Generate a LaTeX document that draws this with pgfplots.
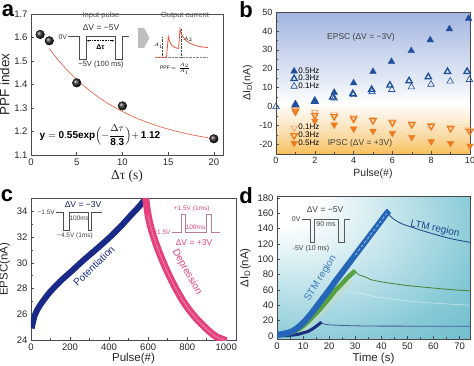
\documentclass[border=0pt]{standalone}
\usepackage{fontspec}
\setmainfont{Liberation Sans}
\newfontfamily\serif{Liberation Serif}
\usepackage{pgfplots}
\pgfplotsset{compat=1.18}
\usetikzlibrary{arrows.meta}
\newcommand\fiteq{$\displaystyle\mathbf{y = 0.55exp}\Bigl(-\frac{\Delta\tau}{\mathbf{8.3}}\Bigr)\mathbf{+\,1.12}$}
\newcommand\ppfeq{PPF $=\frac{A_2}{A_1}$}
\definecolor{bblue}{HTML}{1F4E9C}
\definecolor{borange}{HTML}{F07A1E}
\definecolor{borangel}{HTML}{F39A5A}
\definecolor{cnavy}{HTML}{1B2A88}
\definecolor{cpink}{HTML}{E6407C}
\definecolor{dblue}{HTML}{2566B8}
\definecolor{dgreen}{HTML}{58A044}
\definecolor{dnavy}{HTML}{1C2E80}
\definecolor{fitred}{HTML}{E8553E}
\definecolor{framec}{HTML}{4A4A4A}
\definecolor{bg1}{HTML}{F7BF5A}
\definecolor{bg2}{HTML}{FAD9A0}
\definecolor{bg3}{HTML}{FDF0DC}
\definecolor{bg4}{HTML}{E6ECF7}
\definecolor{bg5}{HTML}{C6D2EC}
\definecolor{bg6}{HTML}{A2B4DE}
\definecolor{dg1}{HTML}{C2E4EB}
\definecolor{dg2}{HTML}{86C9D6}
\definecolor{dg3}{HTML}{5AB2C5}
\pgfdeclareverticalshading{bshade}{100bp}{color(0bp)=(bg1); color(25bp)=(bg1); color(31bp)=(bg2); color(38bp)=(bg3); color(43bp)=(white); color(50bp)=(bg4); color(62bp)=(bg5); color(75bp)=(bg6); color(100bp)=(bg6)}
\pgfdeclareradialshading{dshade}{\pgfpoint{-25bp}{25bp}}{color(0bp)=(white); color(8bp)=(white); color(25bp)=(dg1); color(42bp)=(dg2); color(62bp)=(dg3); color(100bp)=(dg3)}
\pgfplotsset{panel/.style={scale only axis, anchor=south west,
  axis line style={framec, line width=0.7pt},
  tick style={framec, line width=0.6pt}, tick align=inside, tick pos=left,
  major tick length=3pt, minor tick length=1.8pt,
  ticklabel style={font=\fontsize{9.5}{10}\selectfont, text=black!85},
  label style={font=\fontsize{11.5}{12}\selectfont, text=black!85},
  /pgf/number format/assume math mode=true,
  /pgf/number format/1000 sep={}}}
\begin{document}
\begin{tikzpicture}
\path[use as bounding box] (0pt,0pt) rectangle (474pt,365pt);
% ---------------- panel a
\begin{axis}[panel, at={(31pt,210pt)}, width=192pt, height=141pt,
  xmin=0, xmax=21, ymin=1.1, ymax=1.7,
  xtick={0,5,10,15,20}, ytick={1.1,1.2,1.3,1.4,1.5,1.6,1.7},
  yticklabel style={/pgf/number format/.cd, fixed, fixed zerofill, precision=1},
  label style={font=\fontsize{13.5}{14}\selectfont},
  xlabel style={yshift=2pt}, ylabel style={yshift=-2pt},
  xlabel={\serif Δτ (s)}, ylabel={PPF index}]
\addplot[fitred, line width=0.6pt, smooth] coordinates {
(2,1.5522)(3,1.5032)(4,1.4597)(5,1.4211)(6,1.3870)(7,1.3567)(8,1.3298)(9,1.3060)(10,1.2848)
(11,1.2661)(12,1.2496)(13,1.2349)(14,1.2218)(15,1.2103)(16,1.2000)(17,1.1909)(18,1.1829)(19,1.1757)(19.6,1.1718)};
\addplot[only marks, mark=ball, mark size=4.3pt, mark options={ball color=black!80}] coordinates {
(1,1.613)(2,1.586)(5,1.407)(10,1.309)(20,1.169)};
\end{axis}
% ---------------- panel b
\begin{axis}[panel, at={(276pt,211pt)}, width=194pt, height=142pt,
  xmin=0, xmax=10, ymin=-25, ymax=50,
  xtick={0,2,4,6,8,10}, ytick={-20,-10,0,10,20,30,40,50},
  minor x tick num=1, minor y tick num=1,
  ticklabel style={font=\fontsize{9}{10}\selectfont},
  label style={font=\fontsize{10.5}{11}\selectfont},
  axis background/.style={shade, shading=bshade},
  xlabel style={yshift=2pt},
  xlabel={Pulse(\#)}, ylabel={ΔI\textsubscript{D}(nA)},
  legend image code/.code={\draw[#1] plot coordinates {(0pt,0pt)};},
  legend style={draw=none, fill=none, at={(0.06,0.53)}, anchor=west,
    font=\fontsize{8}{8}\selectfont, row sep=-1.5pt, nodes={inner sep=1pt}},
  legend cell align=left]
\addplot[only marks, mark=triangle*, mark size=3.8pt, mark options={draw=bblue, fill=bblue}] coordinates {
(1,1.3)(2,3.3)(3,7.5)(4,12.5)(5,18.5)(5.95,23.8)(6.97,29.5)(7.95,35.2)(8.94,41)(9.93,46.6)};
\addlegendentry{0.5Hz}
\addplot[only marks, mark=triangle, mark size=3.6pt, mark options={draw=bblue, line width=1.3pt}] coordinates {
(1,0.8)(2,2.8)(2.92,5)(3.96,6.8)(4.93,9)(5.87,11.3)(6.86,13.6)(7.85,15.7)(8.84,18.5)(9.85,18.5)};
\addlegendentry{0.3Hz}
\addplot[only marks, mark=triangle, mark size=3.8pt, mark options={draw=bblue, line width=0.6pt}] coordinates {
(0,0)(1,1.2)(2,3)(3,4.5)(4,6.3)(4.95,7.8)(5.97,9)(6.98,10.4)(7.99,11.8)(8.98,13.4)(9.97,14.3)};
\addlegendentry{0.1Hz}
\end{axis}
\begin{axis}[panel, hide axis, at={(276pt,211pt)}, width=194pt, height=142pt,
  xmin=0, xmax=10, ymin=-25, ymax=50,
  legend image code/.code={\draw[#1] plot coordinates {(0pt,0pt)};},
  legend style={draw=none, fill=none, at={(0.06,0.13)}, anchor=west,
    font=\fontsize{8}{8}\selectfont, row sep=-1.5pt, nodes={inner sep=1pt}},
  legend cell align=left]
\addplot[only marks, mark=triangle, mark size=3.8pt, mark options={draw=borangel, line width=0.6pt, rotate=180}] coordinates {
(1,-1.5)(2,-2.9)(3,-4.3)(4,-5.5)(5,-6.8)(6,-8)(7,-9)(8,-10)(9,-11.2)(9.9,-12.2)};
\addlegendentry{0.1Hz}
\addplot[only marks, mark=triangle, mark size=3.6pt, mark options={draw=borange, line width=1.3pt, rotate=180}] coordinates {
(1,-2.3)(2,-4.6)(3,-5.2)(4,-6.4)(5,-7.3)(6,-8.5)(7,-9.4)(8,-10.3)(9,-11.5)(10,-12.9)};
\addlegendentry{0.3Hz}
\addplot[only marks, mark=triangle*, mark size=3.8pt, mark options={draw=borange, fill=borange, rotate=180}] coordinates {
(1,-2.9)(2,-7.5)(3,-9.6)(4,-11.7)(5,-12.9)(6,-14)(7,-16.1)(8,-18.4)(9,-19.3)(10,-20.7)};
\addlegendentry{0.5Hz}
\end{axis}
% ---------------- panel c
\begin{axis}[panel, at={(31pt,25pt)}, width=205pt, height=141.3pt,
  xmin=0, xmax=1050, ymin=24, ymax=35,
  xtick={0,200,400,600,800,1000}, ytick={24,26,28,30,32,34},
  minor x tick num=1, minor y tick num=1,
  xlabel style={yshift=4pt},
  xlabel={Pulse(\#)}, ylabel={EPSC(nA)}]
\addplot[cnavy, line width=6pt, smooth] coordinates {
(3,24.9)(20,25.95)(46,26.7)(98,27.75)(166,28.8)(200,29.25)(268,30.2)(337,31.1)(400,31.95)
(457,32.8)(508,33.65)(560,34.5)(590,35.1)};
\addplot[cpink, line width=7pt, smooth] coordinates {
(585,35.3)(600,33.7)(615,32.7)(640,31.5)(673,30.2)(707,29.05)(742,28.0)(776,27.1)(810,26.35)
(845,25.7)(880,25.15)(915,24.65)(950,24.25)(1000,23.95)};
\addplot[cpink!55!white, line width=1.2pt, densely dotted, smooth] coordinates {
(600,33.7)(615,32.7)(640,31.5)(673,30.2)(707,29.05)(742,28.0)(776,27.1)(810,26.35)
(845,25.7)(880,25.15)(915,24.65)(950,24.25)(1000,23.95)};
\end{axis}
% ---------------- panel d
\begin{axis}[panel, at={(277pt,26pt)}, width=193pt, height=142.7pt,
  xmin=0, xmax=74, ymin=-4, ymax=182,
  xtick={0,10,20,30,40,50,60,70}, ytick={0,20,40,60,80,100,120,140,160,180},
  minor x tick num=1,
  xlabel style={yshift=3pt},
  axis background/.style={shade, shading=dshade},
  xlabel={Time (s)}, ylabel={ΔI\textsubscript{D}(nA)}]
\addplot[white, opacity=0.45, line width=0.7pt, smooth] coordinates {(28,58)(40,50)(55,44)(74,40)};
\addplot[bblue!85!black, line width=0.8pt, smooth] coordinates {
(42.5,162)(43.5,156)(45.3,151)(48,146)(51,142.5)(55,138)(61.3,131.6)(67,126.5)(74,122)};
\addplot[dgreen!80!black, line width=0.8pt, smooth] coordinates {
(30,85)(31.2,80)(34.2,76.5)(35.7,73.7)(40,70.5)(48.5,66.3)(55,64)(61.3,62)(67,60.3)(74,58.8)};
\addplot[dnavy!80, line width=0.8pt, smooth] coordinates {
(17,18)(18,15.5)(20,14.5)(22.8,14)(30,13.2)(40,12.8)(74,12.7)};
\addplot[dgreen!35!white, opacity=0.6, line width=8pt, smooth] coordinates {
(8,6)(12,16)(16,30)(20,45)(24,60)(28,74)};
\addplot[dnavy, line width=3pt, smooth] coordinates {
(0,0)(4,0.5)(8,2)(10,4)(12,6)(14,10)(16,15)(17,18)};
\addplot[dgreen, line width=4.5pt, smooth] coordinates {
(0,1)(2,2)(4,3)(6,5)(8,8)(10,13)(12,19)(14,26)(16.5,35)(18,41)(20,49)(22.8,61)(24.5,66.5)(26.6,74.5)(28,79)(30,85)};
\addplot[dblue, line width=6pt, smooth] coordinates {
(0,1.5)(2,2.5)(4,4)(6,6.5)(8,11)(10,17)(12,24.5)(14,33)(16,42)(18,51)(20,60)(22,69.5)(24,78.5)
(26,87.5)(28,96.5)(30,105.5)(32,114.5)(34,123.5)(36,132.5)(38,141.5)(40,150.5)(42,159.5)(43,163)};
\addplot[white, opacity=0.55, line width=0.8pt, densely dashed, smooth] coordinates {
(30,105.5)(32,114.5)(34,123.5)(36,132.5)(38,141.5)(40,150.5)(42,159.5)};
\end{axis}
% ---------------- annotations (pixel coordinates, y downward)
\begin{scope}[x=1pt, y=-1pt, shift={(0pt,365pt)}]
\node[font=\bfseries\fontsize{22}{22}\selectfont] at (8,11) {a};
\node[font=\bfseries\fontsize{22}{22}\selectfont] at (246,10) {b};
\node[font=\bfseries\fontsize{22}{22}\selectfont] at (7,196) {c};
\node[font=\bfseries\fontsize{22}{22}\selectfont] at (246,196) {d};
% panel a inset
\node[font=\fontsize{7.5}{8}\selectfont, text=black!65] at (101,15.5) {Input pulse};
\node[font=\fontsize{8.5}{9}\selectfont, text=black!80] at (101,27.5) {ΔV = −5V};
\draw[black!70, line width=0.6pt] (68.3,36.7) -- (79.3,36.7) -- (79.3,59.7) -- (86,59.7) -- (86,36.7) -- (115,36.7) -- (115,59.7) -- (122.3,59.7) -- (122.3,36.7) -- (129,36.7);
\node[font=\fontsize{7}{8}\selectfont, anchor=east, text=black!75, inner sep=1pt] at (68.3,36.7) {0V};
\draw[black, densely dotted, line width=0.6pt, {Latex[length=2.5pt]}-{Latex[length=2.5pt]}] (86.5,40.7) -- (114.5,40.7);
\node[font=\bfseries\fontsize{7}{8}\selectfont] at (100.5,46.8) {Δτ};
\node[font=\fontsize{7.5}{8}\selectfont, text=black!80] at (101,65) {−5V (100 ms)};
\fill[black!25] (138,28) -- (144,28) -- (149.5,38) -- (144,48) -- (138,48) -- cycle;
\node[font=\fontsize{7.5}{8}\selectfont, text=black!65] at (185,15.5) {Output current};
\draw[black!50, densely dotted] (155,57.3) -- (208,57.3);
\draw[black!70, densely dotted] (162.5,57.3) -- (162.5,36.3);
\draw[black!70, densely dotted] (181,57.3) -- (181,28.7);
\draw[fitred, line width=0.8pt] (156,57.3) -- (166.5,57.3) -- (168.3,36.5) .. controls (170,45) and (173,48) .. (178.6,48.5) -- (180,29) .. controls (182,40) and (190,46.5) .. (208,47.5);
\node[font=\fontsize{5.5}{6}\selectfont] at (158.5,46) {$A_1$};
\node[font=\fontsize{5.5}{6}\selectfont] at (188,39.5) {$A_2$};
\node[font=\fontsize{5}{6}\selectfont] at (175,68.5) {\ppfeq};
% equation
\node[font=\fontsize{10}{11}\selectfont] at (100,135) {\fiteq};
% panel b text
\node[font=\fontsize{8.5}{9}\selectfont, text=black!75] at (361,37) {EPSC (ΔV = −3V)};
\node[font=\fontsize{8.5}{9}\selectfont, text=black!75] at (360,143.3) {IPSC (ΔV = +3V)};
% panel c insets
\node[font=\fontsize{8.5}{9}\selectfont, text=cnavy!70!black] at (83,205) {ΔV = −3V};
\draw[black!70, line width=0.6pt] (56,212.7) -- (63.3,212.7) -- (63.3,230.7) -- (69.3,230.7) -- (69.3,212.7) -- (88.3,212.7) -- (88.3,230.7) -- (91.7,230.7) -- (91.7,212.7) -- (101.7,212.7);
\node[font=\fontsize{6.5}{7}\selectfont, anchor=east, text=black!75, inner sep=1pt] at (56,212.7) {−1.5V};
\node[font=\fontsize{6.5}{7}\selectfont, text=black!75] at (79.3,218.5) {100ms};
\node[font=\fontsize{6.5}{7}\selectfont, text=black!75] at (75,235.5) {−4.5V (1ms)};
\node[font=\fontsize{6.5}{7}\selectfont, text=cpink] at (191.7,209) {+1.5V (1ms)};
\draw[cpink!60!black!60, line width=0.6pt] (171.7,232.7) -- (181.7,232.7) -- (181.7,214) -- (185,214) -- (185,232.7) -- (206.7,232.7) -- (206.7,214) -- (211,214) -- (211,232.7) -- (220,232.7);
\node[font=\fontsize{6.5}{7}\selectfont, text=cpink, anchor=east, inner sep=1pt] at (171.7,232.7) {−1.5V};
\node[font=\fontsize{6.5}{7}\selectfont, text=cpink] at (195.5,227.5) {100ms};
\node[font=\fontsize{8.5}{9}\selectfont, text=cpink] at (194,242.3) {ΔV = +3V};
\node[font=\fontsize{10}{11}\selectfont, text=cnavy, rotate=44] at (94,266) {Potentiation};
\node[font=\fontsize{10}{11}\selectfont, text=cpink, rotate=-61] at (187,272) {Depression};
% panel d inset
\node[font=\fontsize{8.5}{9}\selectfont, text=black!75] at (325,210) {ΔV = −5V};
\draw[black!65, line width=0.6pt] (301.7,219) -- (310,219) -- (310,242.3) -- (314,242.3) -- (314,219) -- (338.3,219) -- (338.3,242.3) -- (344,242.3) -- (344,219) -- (350,219);
\node[font=\fontsize{7}{8}\selectfont, anchor=east, text=black!75, inner sep=1pt] at (301.7,219.5) {0V};
\node[font=\fontsize{7}{8}\selectfont, text=black!75] at (326,224.5) {90 ms};
\node[font=\fontsize{7}{8}\selectfont, text=black!75] at (311,248.7) {-5V (10 ms)};
\node[font=\fontsize{10}{11}\selectfont, text=dblue!90, rotate=58] at (320.5,278.5) {STM region};
\node[font=\fontsize{10}{11}\selectfont, text=bblue!90!black, rotate=-12] at (435,229) {LTM region};
\end{scope}
\end{tikzpicture}
\end{document}
